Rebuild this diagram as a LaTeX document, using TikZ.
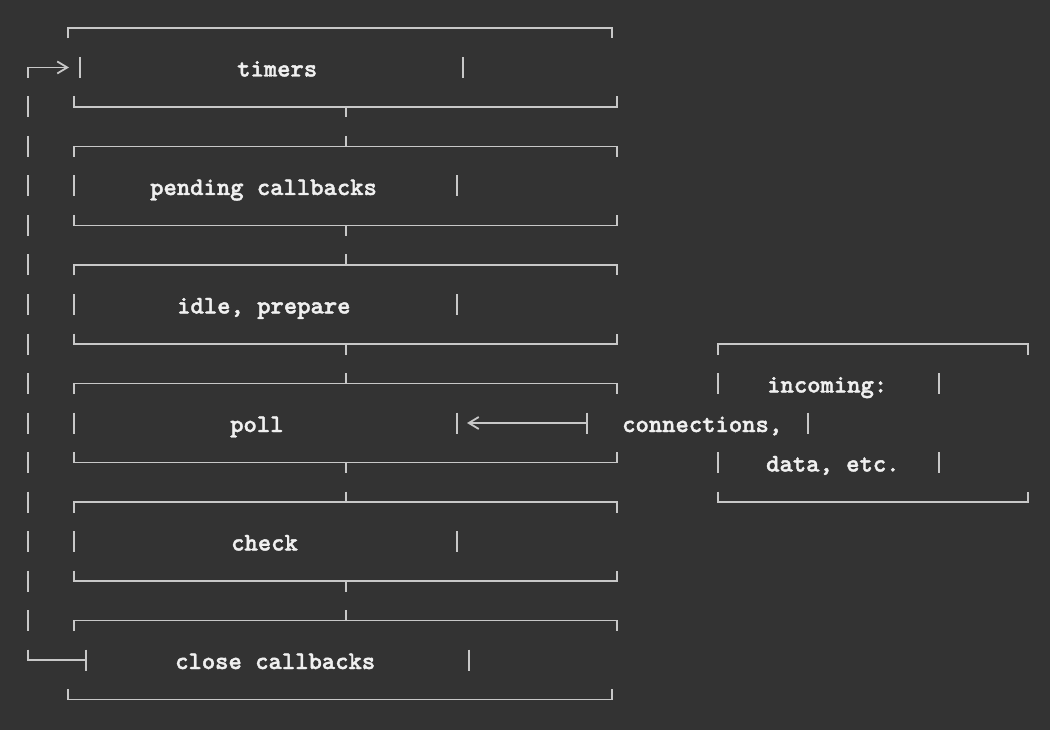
\documentclass[tikz,border=0pt]{standalone}
\usepackage{fontspec}
\newfontfamily\codefont{lmmonolt10-bold.otf}[FakeBold=1.6]
\usetikzlibrary{arrows.meta}
\definecolor{bgdark}{HTML}{333333}
\definecolor{rulegray}{HTML}{C8C8C8}
\definecolor{textwhite}{HTML}{F0F0F0}
\begin{document}
\begin{tikzpicture}[
      x=1pt, y=-1pt,
      phase/.style={font=\codefont\fontsize{25.4}{30}\selectfont,
        text=textwhite, anchor=base west, inner sep=0pt},
      rule/.style={draw=rulegray, line width=1.4pt},
      barb/.style={rule, -{Straight Barb[length=10pt,width=12pt,line width=1.8pt]}},
      ]
      \fill[bgdark] (0,0) rectangle (1050,730);
      % phase boxes, top and bottom edges
      \draw[rule] (68,38.5) -- (68,28) -- (612,28) -- (612,38.5);
      \foreach \r in {3,6,9,12,15} {
        \pgfmathsetmacro\yy{28+39.5*\r}
        \draw[rule] (74,\yy+10.5) -- (74,\yy) -- (617,\yy) -- (617,\yy+10.5);
        \draw[rule] (346,\yy-10.5) -- (346,\yy);
      }
      \foreach \r in {2,5,8,11,14} {
        \pgfmathsetmacro\yy{28+39.5*\r}
        \draw[rule] (74,\yy-10.5) -- (74,\yy) -- (617,\yy) -- (617,\yy-10.5);
        \draw[rule] (346,\yy) -- (346,\yy+10.5);
      }
      \draw[rule] (68,689) -- (68,699.5) -- (612,699.5) -- (612,689);
      % phase labels
      \node[phase] (timers) at (237,76.5) {timers};
      \draw[rule] (80,57) -- (80,78);
      \draw[rule] (463,57) -- (463,78);
      \foreach \r/\n/\t in {4/pending/pending callbacks, 7/idle/{idle, prepare},
                            10/poll/poll, 13/check/check} {
        \pgfmathsetmacro\yy{28+39.5*\r}
        \draw[rule] (74,\yy-10.5) -- (74,\yy+10.5);
        \draw[rule] (457,\yy-10.5) -- (457,\yy+10.5);
      }
      \node[phase] (pending) at (150,195) {pending callbacks};
      \node[phase] (idle) at (177,313.5) {idle, prepare};
      \node[phase] (poll) at (230,432) {poll};
      \node[phase] (check) at (231,550.5) {check};
      \node[phase] (close) at (175,669) {close callbacks};
      \draw[rule] (469,649.5) -- (469,670.5);
      % loop back from close callbacks to timers
      \coordinate (loopbot) at (28,649.5);
      \coordinate (loopcorner) at (28,660);
      \coordinate (closebar) at (86,660);
      \coordinate (looptop) at (28,78);
      \coordinate (timersin) at (69,67.5);
      \foreach \r in {2,...,15} {
        \pgfmathsetmacro\yy{28+39.5*\r}
        \draw[rule] (28,\yy-10.5) -- (28,\yy+10.5);
      }
      \draw[rule] (loopbot) -- (loopcorner) -- (closebar);
      \draw[rule] (86,649.5) -- (86,670.5);
      \draw[barb] (looptop) |- (timersin);
      % incoming box
      \draw[rule] (718,354.5) -- (718,344) -- (1028,344) -- (1028,354.5);
      \draw[rule] (718,491.5) -- (718,502) -- (1028,502) -- (1028,491.5);
      \node[phase] (incoming) at (767,392.5) {incoming:};
      \node[phase] (conns) at (622,432) {connections,};
      \node[phase] (data) at (766,471.5) {data, etc.};
      \foreach \r in {9,11} {
        \pgfmathsetmacro\yy{28+39.5*\r}
        \draw[rule] (718,\yy-10.5) -- (718,\yy+10.5);
        \draw[rule] (939,\yy-10.5) -- (939,\yy+10.5);
      }
      \draw[rule] (808,412.5) -- (808,433.5);
      % incoming events into poll
      \coordinate (incout) at (587,423);
      \coordinate (pollin) at (467,423);
      \draw[rule] (587,412.5) -- (587,433.5);
      \draw[barb] (incout) -- (pollin);
    \end{tikzpicture}
\end{document}
